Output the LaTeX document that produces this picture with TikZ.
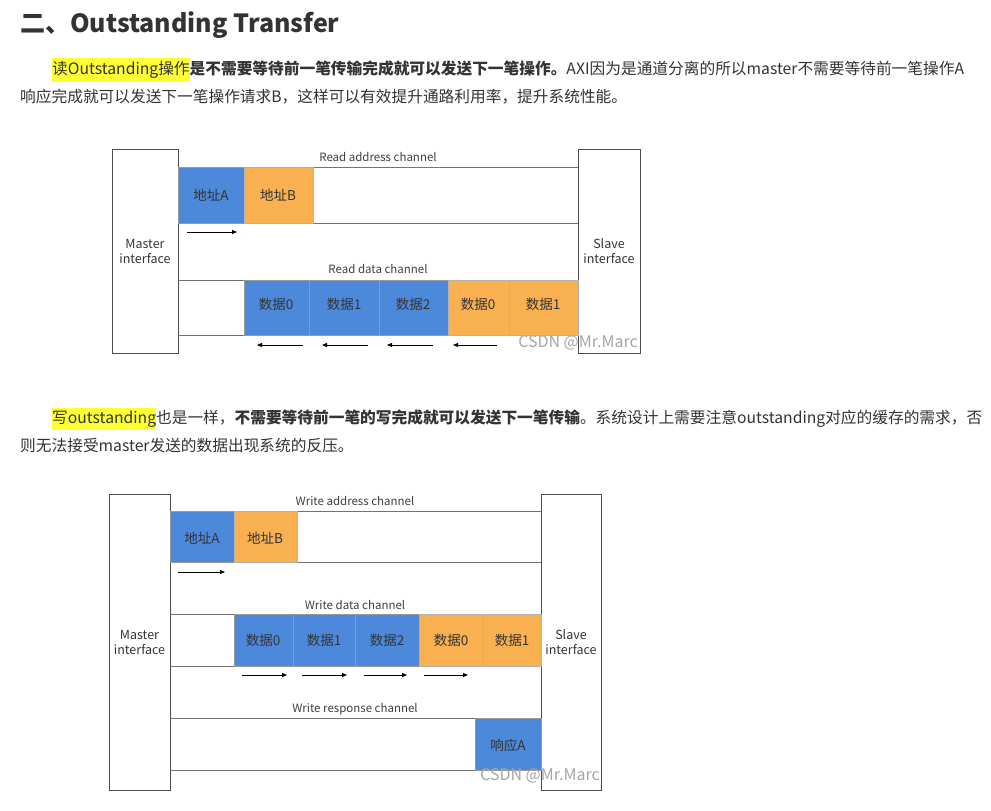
\documentclass[tikz,border=0pt]{standalone}
\usepackage{fontspec}
\setmainfont{Noto Sans CJK SC}
\newfontfamily\cjk{Noto Sans CJK SC}
\usetikzlibrary{arrows.meta}
\definecolor{txt}{HTML}{333333}
\definecolor{blk}{HTML}{4D89DA}
\definecolor{org}{HTML}{F8B050}
\definecolor{hl}{HTML}{FFFF33}
\tikzset{
  side/.style={draw=black!70,line width=0.8pt},
  chan/.style={draw=black!55,line width=0.8pt},
  bluebox/.style={fill=blk,draw=black!40,line width=0.4pt},
  orangebox/.style={fill=org,draw=black!30,line width=0.4pt},
  lbl/.style={font=\fontsize{13.5}{15}\selectfont,text=black!80,inner sep=0},
  chlbl/.style={font=\fontsize{11.5}{13}\selectfont,text=black!75,inner sep=0},
  flow/.style={-{Triangle[length=5pt,width=4pt]},line width=0.8pt},
  para/.style={font=\fontsize{15.7}{18}\selectfont,text=txt,anchor=west,inner sep=0},
  wm/.style={font=\fontsize{16}{18}\selectfont,text=black!35,inner sep=0}
}
\begin{document}
\begin{tikzpicture}[x=1pt,y=-1pt]
\useasboundingbox[fill=white] (0,0) rectangle (991,811);
% header text
\node[anchor=west,inner sep=0,text=txt,font=\fontsize{25}{28}\selectfont\bfseries] (title) at (20,25) {二、Outstanding Transfer};
\node[para] (p1a) at (52,70) {\colorbox{hl}{\kern-3pt 读Outstanding操作\kern-3pt}\textbf{是不需要等待前一笔传输完成就可以发送下一笔操作。}AXI因为是通道分离的所以master不需要等待前一笔操作A};
\node[para] (p1b) at (20,97) {响应完成就可以发送下一笔操作请求B，这样可以有效提升通路利用率，提升系统性能。};
\node[para] (p2a) at (52,419) {\colorbox{hl}{\kern-3pt 写outstanding\kern-3pt}也是一样，\textbf{不需要等待前一笔的写完成就可以发送下一笔传输}。系统设计上需要注意outstanding对应的缓存的需求，否};
\node[para] (p2b) at (20,446) {则无法接受master发送的数据出现系统的反压。};

% ===== Diagram 1 =====
\node[side,minimum width=66pt,minimum height=204pt,inner sep=0,align=center,font=\fontsize{12.5}{15}\selectfont,text=black!80] (m1) at (145,251) {Master\\interface};
\node[side,minimum width=62pt,minimum height=204pt,inner sep=0,align=center,font=\fontsize{12.5}{15}\selectfont,text=black!80] (s1) at (609,251) {Slave\\interface};
\draw[chan] (178,167) -- (578,167) (178,223) -- (578,223);
\draw[chan] (178,280) -- (578,280) (178,335) -- (578,335);
\node[chlbl] (ra) at (378,157) {Read address channel};
\node[chlbl] (rd) at (378,269) {Read data channel};
\path[bluebox] (178,167) rectangle (244,223); \node[lbl] (a1) at (211,195) {地址A};
\path[orangebox] (244,167) rectangle (313,223); \node[lbl] (b1) at (278,195) {地址B};
\path[bluebox] (244,280) rectangle (309,335); \node[lbl] (d10) at (276,304) {数据0};
\path[bluebox] (309,280) rectangle (379,335); \node[lbl] (d11) at (344,304) {数据1};
\path[bluebox] (379,280) rectangle (448,335); \node[lbl] (d12) at (413,304) {数据2};
\path[orangebox] (448,280) rectangle (509,335); \node[lbl] (d13) at (478,304) {数据0};
\path[orangebox] (509,280) rectangle (578,335); \node[lbl] (d14) at (543,304) {数据1};
\coordinate (r0a) at (187,232); \coordinate (r0b) at (237,232);
\draw[flow] (r0a) -- (r0b);
\foreach \a/\b [count=\i] in {257/303,322/368,387/433,453/497}{
  \coordinate (la\i) at (\b,345); \coordinate (lb\i) at (\a,345);
  \draw[flow] (la\i) -- (lb\i);}
\node[wm] (w1) at (578,343) {CSDN @Mr.Marc};

% ===== Diagram 2 =====
\node[side,minimum width=61pt,minimum height=296pt,inner sep=0,align=center,font=\fontsize{12.5}{15}\selectfont,text=black!80] (m2) at (139.5,642) {Master\\interface};
\node[side,minimum width=60pt,minimum height=296pt,inner sep=0,align=center,font=\fontsize{12.5}{15}\selectfont,text=black!80] (s2) at (571,642) {Slave\\interface};
\draw[chan] (170,511) -- (541,511) (170,562) -- (541,562);
\draw[chan] (170,614) -- (541,614) (170,666) -- (541,666);
\draw[chan] (170,718) -- (541,718) (170,770) -- (541,770);
\node[chlbl] (wa) at (355,501) {Write address channel};
\node[chlbl] (wd) at (355,605) {Write data channel};
\node[chlbl] (wr) at (355,709) {Write response channel};
\path[bluebox] (170,511) rectangle (234,562); \node[lbl] (a2) at (202,538) {地址A};
\path[orangebox] (234,511) rectangle (297,562); \node[lbl] (b2) at (265,538) {地址B};
\path[bluebox] (234,614) rectangle (293,666); \node[lbl] (d20) at (263,640) {数据0};
\path[bluebox] (293,614) rectangle (355,666); \node[lbl] (d21) at (324,640) {数据1};
\path[bluebox] (355,614) rectangle (419,666); \node[lbl] (d22) at (387,640) {数据2};
\path[orangebox] (419,614) rectangle (483,666); \node[lbl] (d23) at (451,640) {数据0};
\path[orangebox] (483,614) rectangle (541,666); \node[lbl] (d24) at (512,640) {数据1};
\path[bluebox] (475,718) rectangle (541,770); \node[lbl] (rsp) at (508,745) {响应A};
\coordinate (q0a) at (178,572); \coordinate (q0b) at (225,572);
\draw[flow] (q0a) -- (q0b);
\foreach \a/\b [count=\i] in {242/287,302/347,364/407,424/468}{
  \coordinate (ra\i) at (\a,675); \coordinate (rb\i) at (\b,675);
  \draw[flow] (ra\i) -- (rb\i);}
\node[wm] (w2) at (540,776) {CSDN @Mr.Marc};
\end{tikzpicture}
\end{document}
